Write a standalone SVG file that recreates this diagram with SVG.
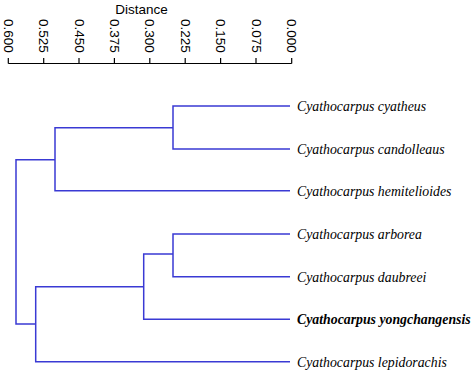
<svg xmlns="http://www.w3.org/2000/svg" width="474" height="373" viewBox="0 0 474 373">
<style>
.ax{stroke:#000;stroke-width:1.2;fill:none}
.tk{font-family:"Liberation Sans",Arial,sans-serif;font-size:13.5px;fill:#000}
.br{stroke:#3a3ad4;stroke-width:1.5;fill:none}
.lb{font-family:"Liberation Serif","Times New Roman",serif;font-style:italic;font-size:13.8px;fill:#000}
.bd{font-weight:bold}
</style>
<rect width="474" height="373" fill="#fff"/>
<g id="axis">
<text class="tk" x="141.5" y="13.5" text-anchor="middle">Distance</text>
<path class="ax" d="M8.3,63.5H291.7M8.3,58V63.5M43.7,58V63.5M79,58V63.5M114.4,58V63.5M149.8,58V63.5M185.2,58V63.5M220.6,58V63.5M256,58V63.5M291.7,58V63.5"/>
<text class="tk" transform="translate(3.8,19) rotate(90)">0.600</text>
<text class="tk" transform="translate(39.2,19) rotate(90)">0.525</text>
<text class="tk" transform="translate(74.5,19) rotate(90)">0.450</text>
<text class="tk" transform="translate(109.9,19) rotate(90)">0.375</text>
<text class="tk" transform="translate(145.3,19) rotate(90)">0.300</text>
<text class="tk" transform="translate(180.7,19) rotate(90)">0.225</text>
<text class="tk" transform="translate(216.1,19) rotate(90)">0.150</text>
<text class="tk" transform="translate(251.5,19) rotate(90)">0.075</text>
<text class="tk" transform="translate(287.2,19) rotate(90)">0.000</text>
</g>
<g id="connectors">
<path class="br" d="M290,106H173V149H290"/>
<path class="br" d="M173,127.7H55V190.7H290"/>
<path class="br" d="M290,234H173V276.7H290"/>
<path class="br" d="M173,254H143.7V319.3H290"/>
<path class="br" d="M143.7,286.7H35.7V361.7H290"/>
<path class="br" d="M55,159.7H16V324H35.7"/>
</g>
<g id="leaf1"><text class="lb" x="297" y="111">Cyathocarpus cyatheus</text></g>
<g id="leaf2"><text class="lb" x="297" y="154">Cyathocarpus candolleaus</text></g>
<g id="leaf3"><text class="lb" x="297" y="195.7">Cyathocarpus hemitelioides</text></g>
<g id="leaf4"><text class="lb" x="297" y="239">Cyathocarpus arborea</text></g>
<g id="leaf5"><text class="lb" x="297" y="281.7">Cyathocarpus daubreei</text></g>
<g id="leaf6"><text class="lb bd" x="297" y="324.3">Cyathocarpus yongchangensis</text></g>
<g id="leaf7"><text class="lb" x="297" y="366.7">Cyathocarpus lepidorachis</text></g>
</svg>
